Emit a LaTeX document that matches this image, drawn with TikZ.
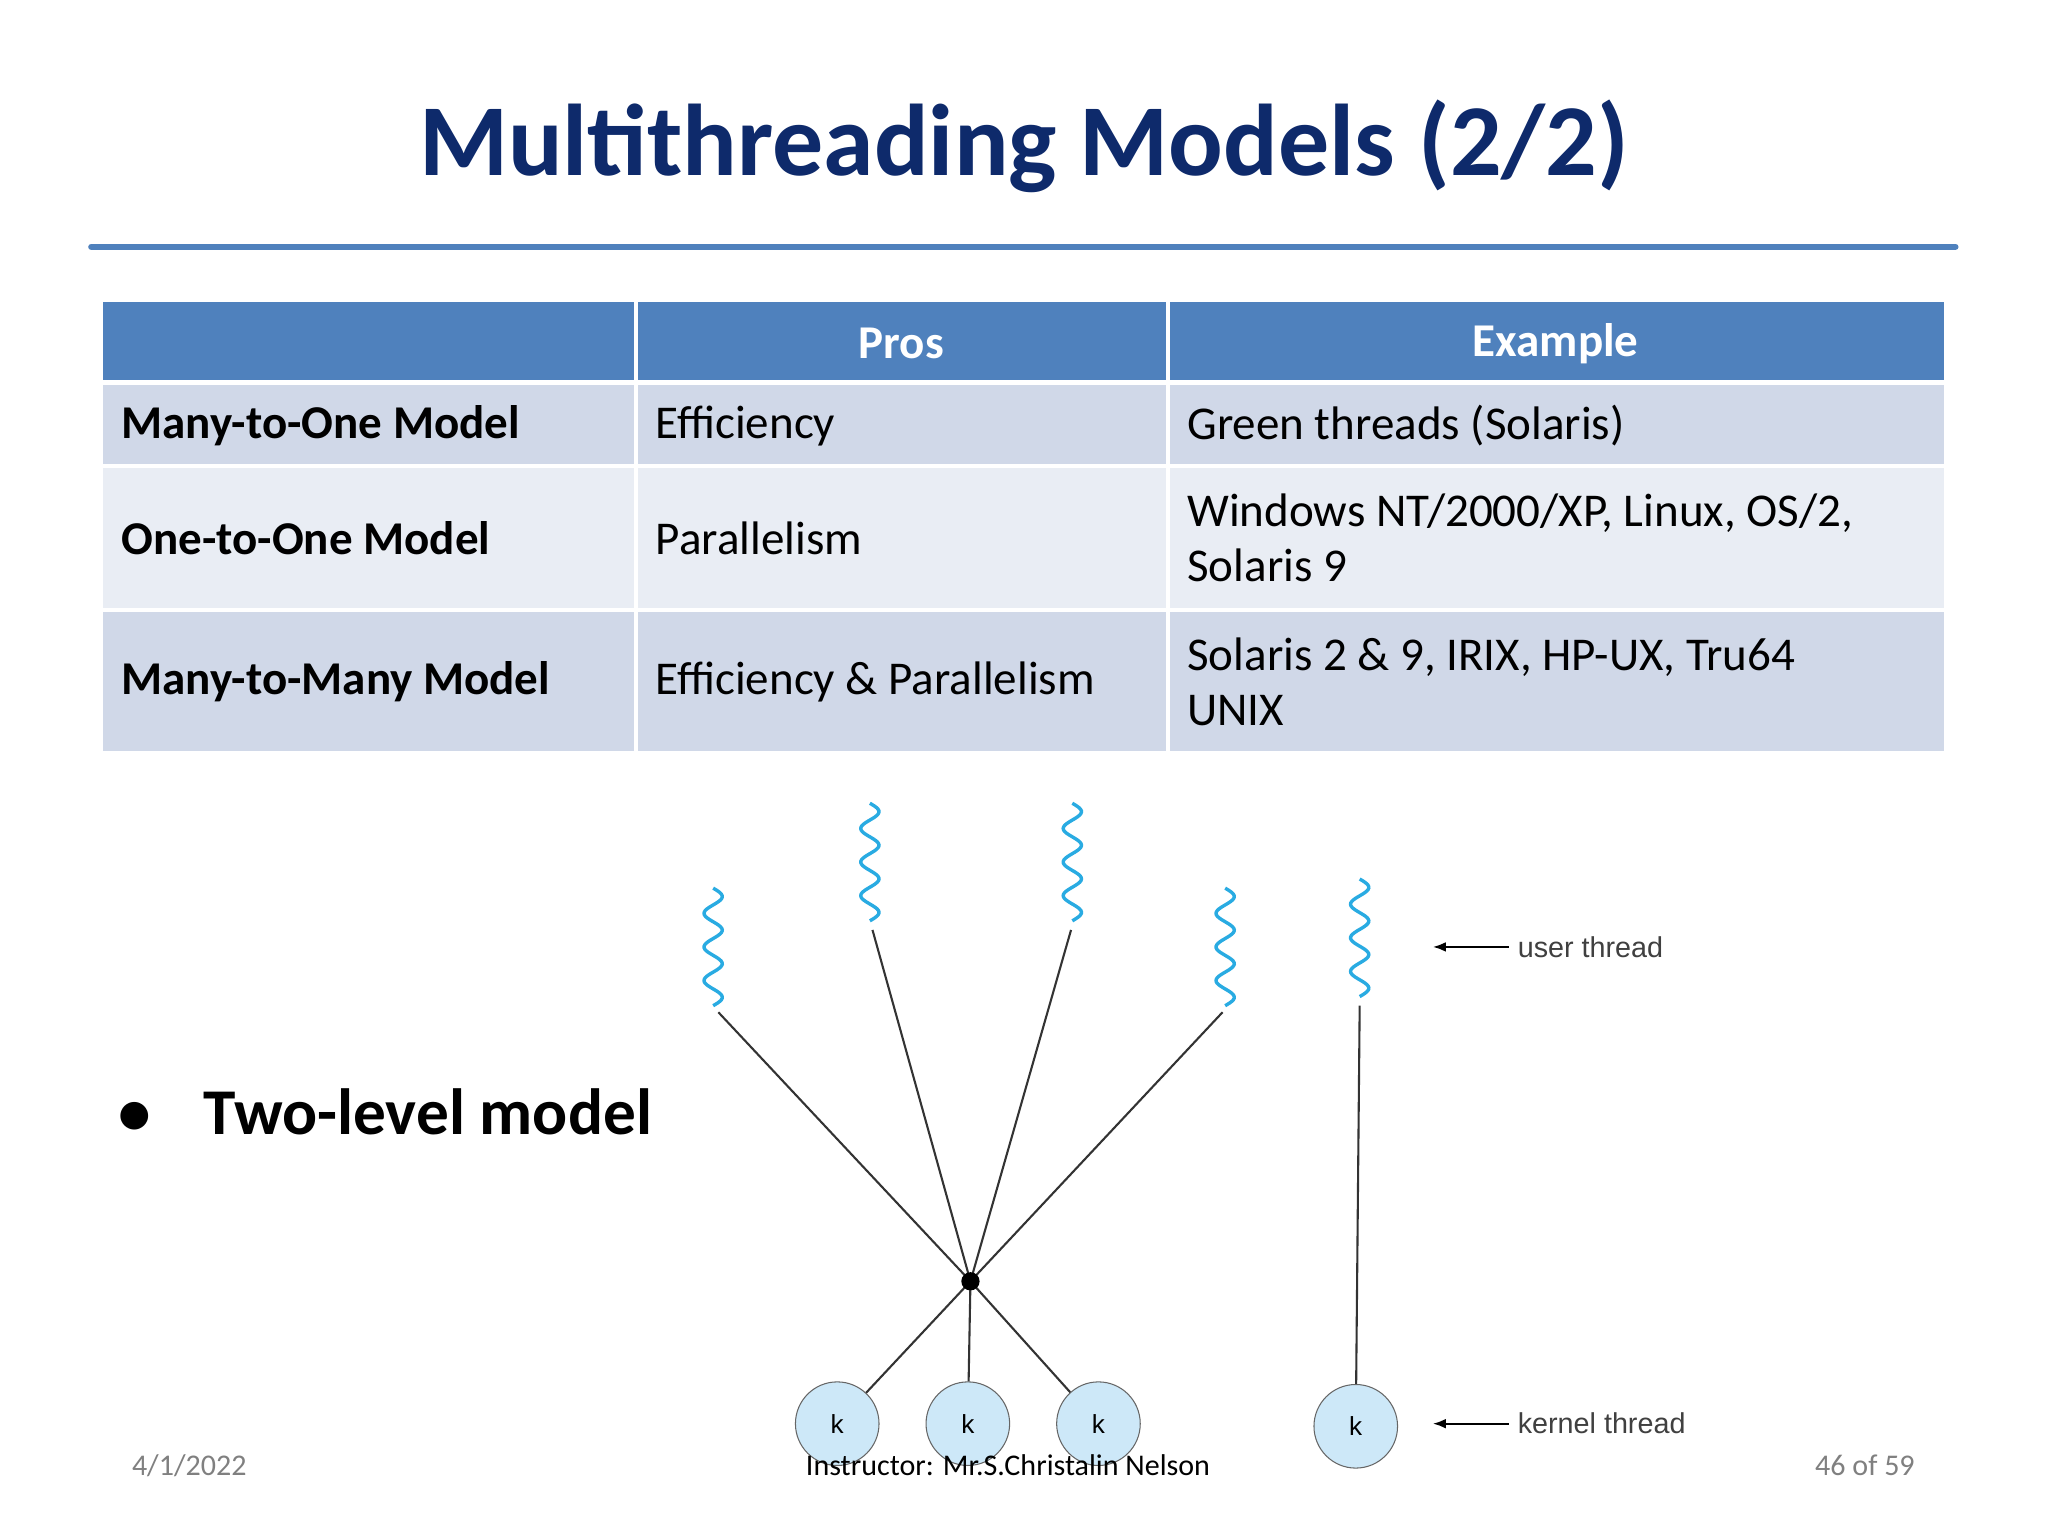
\documentclass[tikz,border=0pt]{standalone}
\usepackage{fontspec}
\setmainfont{Carlito}
\newfontfamily\lab{Liberation Sans}
\usetikzlibrary{arrows.meta}
\definecolor{hdr}{HTML}{4F81BD}
\definecolor{rowa}{HTML}{D0D8E8}
\definecolor{rowb}{HTML}{E9EDF4}
\definecolor{ttl}{HTML}{0E2A6B}
\definecolor{sq}{HTML}{29ABE2}
\definecolor{kf}{HTML}{CDE8F8}
\begin{document}
\begin{tikzpicture}[x=0.5pt,y=-0.5pt,
 cell/.style={anchor=west,font=\fontsize{18}{21}\selectfont,align=left},
 hcell/.style={font=\fontsize{18}{21}\selectfont\bfseries,text=white},
 kn/.style={circle,draw=gray!80!black,fill=kf,minimum size=32pt,inner sep=0pt,font=\lab\fontsize{10}{12}\selectfont},
 sqs/.style={sq,line width=1.3pt},
 ln/.style={draw=black!80,line width=0.8pt},
 lbl/.style={anchor=west,font=\lab\fontsize{11}{13}\selectfont,text=black!75},
 ft/.style={font=\fontsize{11.5}{13}\selectfont}]
\useasboundingbox (0,0) rectangle (1568,1176);
\fill[white] (0,0) rectangle (1568,1176);
\node[font=\fontsize{39}{44}\selectfont\bfseries,text=ttl] (title) at (784,112) {Multithreading Models (2/2)};
\draw[hdr,line width=2.5pt,line cap=round] (70,189) -- (1497,189);
% table
\fill[hdr] (79,231) rectangle (1488,291);
\fill[rowa] (79,294) rectangle (1488,356);
\fill[rowb] (79,358) rectangle (1488,466);
\fill[rowa] (79,468) rectangle (1488,575);
\draw[white,line width=1.5pt] (79,293) -- (1488,293) (79,357) -- (1488,357) (79,467) -- (1488,467)
  (487,231) -- (487,575) (894,231) -- (894,575);
\node[hcell] (hp) at (690,263) {Pros};
\node[hcell] (he) at (1191,263) {Example};
\node[cell,font=\fontsize{18}{21}\selectfont\bfseries] (r1) at (86,326) {Many-to-One Model};
\node[cell,font=\fontsize{18}{21}\selectfont\bfseries] (r2) at (86,412) {One-to-One Model};
\node[cell,font=\fontsize{18}{21}\selectfont\bfseries] (r3) at (86,522) {Many-to-Many Model};
\node[cell] (p1) at (495,326) {Efficiency};
\node[cell] (p2) at (495,412) {Parallelism};
\node[cell] (p3) at (495,522) {Efficiency \& Parallelism};
\node[cell] (e1) at (902,326) {Green threads (Solaris)};
\node[cell] (e2) at (902,412) {Windows NT/2000/XP, Linux, OS/2,\\Solaris 9};
\node[cell] (e3) at (902,522) {Solaris 2 \& 9, IRIX, HP-UX, Tru64\\UNIX};
% bullet
\node[anchor=west,font=\fontsize{25}{30}\selectfont\bfseries] (b) at (84,851) {\textbullet\hspace{20pt}Two-level model};
% squiggles
\foreach \sx/\sy in {546/680,666/615,821/615,938/680,1041/673}
  \draw[sqs] plot[variable=\t,domain=0:90,samples=80,smooth] ({\sx+7*sin(14*\t)},{\sy+\t});
% diagram
\coordinate (c) at (743,981);
\coordinate (u1) at (550,775);
\coordinate (u2) at (668,712);
\coordinate (u3) at (820,712);
\coordinate (u4) at (936,775);
\coordinate (u5) at (1041,770);
\node[kn] (k1) at (641,1090) {k};
\node[kn] (k2) at (741,1090) {k};
\node[kn] (k3) at (841,1090) {k};
\node[kn] (k4) at (1038,1092) {k};
\foreach \u in {u1,u2,u3,u4} \draw[ln] (\u) -- (c);
\foreach \k in {k1,k2,k3} \draw[ln] (c) -- (\k);
\draw[ln] (u5) -- (k4);
\fill (c) circle (3.5pt);
\node[lbl] (ut) at (1155,725) {user thread};
\node[lbl] (kt) at (1155,1090) {kernel thread};
\coordinate (ua) at (1097,725);
\coordinate (ka) at (1097,1090);
\draw[-{Latex[length=5pt]},line width=0.8pt] (ut.west) -- (ua);
\draw[-{Latex[length=5pt]},line width=0.8pt] (kt.west) -- (ka);
% footer
\node[ft,anchor=west,text=gray] (d) at (94,1122) {4/1/2022};
\node[ft,anchor=west] (ins) at (610,1122) {Instructor: Mr.S.Christalin Nelson};
\node[ft,anchor=east,text=gray] (pg) at (1473,1122) {46 of 59};
\end{tikzpicture}
\end{document}
